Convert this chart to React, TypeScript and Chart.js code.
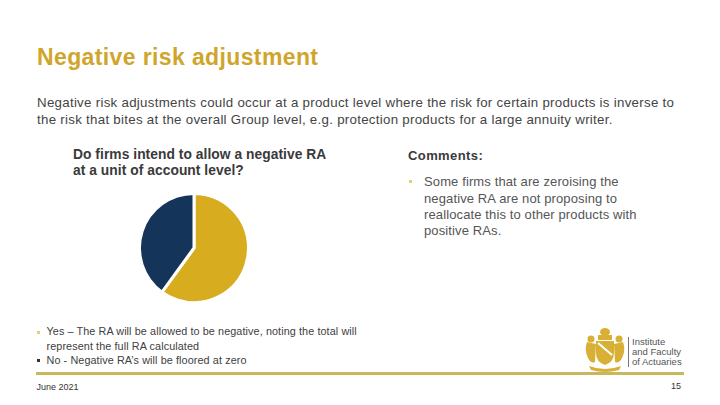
import React, { useEffect, useRef } from "react";
import { Chart, registerables } from "chart.js";

Chart.register(...registerables);

const categories = ["Yes", "No"];
const shares = [60, 40];
const sliceColors = ["#D8AC1F", "#15345A"];

const titleText = "Negative risk adjustment";
const introLines = [
  "Negative risk adjustments could occur at a product level where the risk for certain products is inverse to",
  "the risk that bites at the overall Group level, e.g. protection products for a large annuity writer.",
];
const questionLines = ["Do firms intend to allow a negative RA", "at a unit of account level?"];
const commentsTitle = "Comments:";
const commentLines = [
  "Some firms that are zeroising the",
  "negative RA are not proposing to",
  "reallocate this to other products with",
  "positive RAs.",
];
const legendItems = [
  ["Yes – The RA will be allowed to be negative, noting the total will", "represent the full RA calculated"],
  ["No - Negative RA’s will be floored at zero"],
];
const footerDate = "June 2021";
const pageNumber = "15";
const logoLines = ["Institute", "and Faculty", "of Actuaries"];

const FONT = '"Liberation Sans", Arial, sans-serif';

function T(props: {
  x: number;
  baseline: number;
  size: number;
  lh?: number;
  weight?: number | string;
  color?: string;
  ls?: number;
  right?: boolean;
  children: React.ReactNode;
}) {
  const F = props.size;
  const L = props.lh ?? F * 1.2;
  const top = props.baseline - ((L - 1.117 * F) / 2 + 0.905 * F);
  const style: React.CSSProperties = {
    position: "absolute",
    top,
    fontSize: F,
    lineHeight: L + "px",
    fontWeight: props.weight ?? 400,
    color: props.color ?? "#404040",
    letterSpacing: props.ls ?? 0,
    whiteSpace: "nowrap",
    fontFamily: FONT,
  };
  if (props.right) style.right = 720 - props.x;
  else style.left = props.x;
  return <div style={style}>{props.children}</div>;
}

function Pie() {
  const ref = useRef<HTMLCanvasElement | null>(null);
  useEffect(() => {
    if (!ref.current) return;
    const chart = new Chart(ref.current, {
      type: "pie",
      data: {
        labels: categories,
        datasets: [
          {
            data: shares,
            backgroundColor: sliceColors,
            borderColor: "#ffffff",
            borderWidth: 3,
          },
        ],
      },
      options: {
        animation: false,
        responsive: false,
        radius: 54.5,
        layout: { padding: 0 },
        plugins: { legend: { display: false }, tooltip: { enabled: false } },
      },
    });
    return () => chart.destroy();
  }, []);
  return (
    <div style={{ position: "absolute", left: 134, top: 188, width: 120, height: 120 }}>
      <canvas ref={ref} width={120} height={120} style={{ width: 120, height: 120 }} />
    </div>
  );
}

function Crest() {
  const g = "#D9B036";
  return (
    <svg style={{ position: "absolute", left: 584, top: 326 }} width={42} height={46} viewBox="0 0 42 46">
      <ellipse cx="21" cy="6" rx="5" ry="4" fill={g} />
      <rect x="14" y="9" width="14" height="5" fill={g} />
      <path d="M12 15 h18 v12 q0 9 -9 12 q-9 -3 -9 -12 z" fill={g} />
      <path d="M14 17 l14 12" stroke="#fff" strokeWidth="2" />
      <path d="M3 16 q-3 8 1 16 q3 6 7 4 l1 -18 z" fill={g} />
      <path d="M39 16 q3 8 -1 16 q-3 6 -7 4 l-1 -18 z" fill={g} />
      <circle cx="7" cy="13" r="3.5" fill={g} />
      <circle cx="35" cy="13" r="3.5" fill={g} />
      <path d="M5 40 q16 6 32 0 l-2 4 q-14 4 -28 0 z" fill={g} />
    </svg>
  );
}

export default function App() {
  return (
    <div
      style={{
        position: "absolute",
        left: 0,
        top: 0,
        width: 720,
        height: 405,
        background: "#ffffff",
        overflow: "hidden",
        fontFamily: FONT,
      }}
    >
      <T x={37} baseline={66} size={23} weight={700} color="#CFA52B" ls={0.38}>
        {titleText}
      </T>
      {introLines.map((l, i) => (
        <T key={i} x={37} baseline={107.5 + i * 17.5} size={13.3} color="#444444" ls={0.28}>
          {l}
        </T>
      ))}
      {questionLines.map((l, i) => (
        <T key={i} x={73} baseline={160.5 + i * 16} size={13.8} weight={700} color="#3A3A3A" ls={0.05}>
          {l}
        </T>
      ))}
      <T x={408} baseline={160.5} size={13} weight={700} color="#3A3A3A" ls={0.4}>
        {commentsTitle}
      </T>
      <div style={{ position: "absolute", left: 409, top: 180, width: 3, height: 3, background: "#E2CF7A" }} />
      {commentLines.map((l, i) => (
        <T key={i} x={424} baseline={186.7 + i * 16.3} size={13} color="#555555" ls={0.12}>
          {l}
        </T>
      ))}
      <Pie />
      {legendItems.map((item, k) => {
        const base = k === 0 ? 335.7 : 364.3;
        return (
          <React.Fragment key={k}>
            <div
              style={{
                position: "absolute",
                left: 37,
                top: base - 5,
                width: 3,
                height: 3,
                background: k === 0 ? "#E2CF7A" : "#333333",
              }}
            />
            {item.map((l, i) => (
              <T key={i} x={46.5} baseline={base + i * 14.3} size={10.8} color="#404040" ls={0.1}>
                {l}
              </T>
            ))}
          </React.Fragment>
        );
      })}
      <div style={{ position: "absolute", left: 36, top: 372, width: 648, height: 2.5, background: "#C9B65E" }} />
      <T x={36.5} baseline={390.5} size={9} color="#333333">
        {footerDate}
      </T>
      <T x={681} baseline={389.5} size={9} color="#333333" right>
        {pageNumber}
      </T>
      <Crest />
      <div style={{ position: "absolute", left: 628, top: 337, width: 1, height: 30, background: "#777777" }} />
      {logoLines.map((l, i) => (
        <T key={i} x={632} baseline={345 + i * 10} size={9.5} color="#555555">
          {l}
        </T>
      ))}
    </div>
  );
}
